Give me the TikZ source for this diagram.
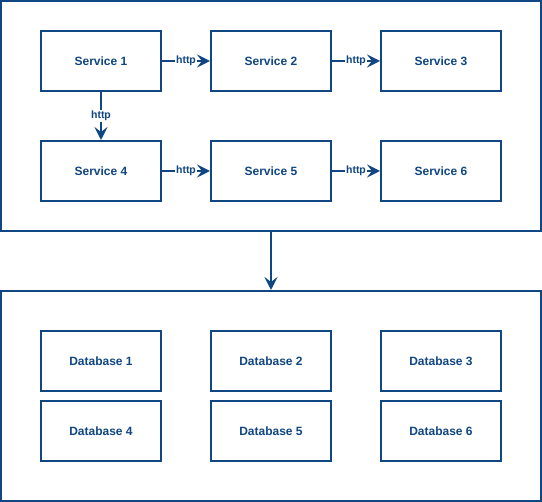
\documentclass[tikz,border=0pt]{standalone}
\usepackage{fontspec}
\setmainfont{Liberation Sans}
\usetikzlibrary{arrows.meta}
\definecolor{dblue}{RGB}{16,70,130}
\tikzset{
  box/.style={draw=dblue, line width=2pt, fill=white, minimum width=120pt, minimum height=60pt, inner sep=0pt, font=\bfseries\fontsize{12}{14}\selectfont, text=dblue},
  frame/.style={draw=dblue, line width=2pt},
  conn/.style={draw=dblue, line width=2pt, -{Stealth[length=13pt,width=13pt,inset=5pt]}},
  lbl/.style={fill=white, inner sep=1pt, text=dblue, font=\bfseries\fontsize{10.5}{12}\selectfont}
}
\begin{document}
\begin{tikzpicture}[x=1pt,y=-1pt]
\useasboundingbox (0,0) rectangle (542,502);
\node[frame, minimum width=540pt, minimum height=230pt, inner sep=0pt] (top) at (271,116) {};
\node[frame, minimum width=540pt, minimum height=210pt, inner sep=0pt] (bot) at (271,396) {};
\node[box] (s1) at (101,61) {Service 1};
\node[box] (s2) at (271,61) {Service 2};
\node[box] (s3) at (441,61) {Service 3};
\node[box] (s4) at (101,171) {Service 4};
\node[box] (s5) at (271,171) {Service 5};
\node[box] (s6) at (441,171) {Service 6};
\node[box] (d1) at (101,361) {Database 1};
\node[box] (d2) at (271,361) {Database 2};
\node[box] (d3) at (441,361) {Database 3};
\node[box] (d4) at (101,431) {Database 4};
\node[box] (d5) at (271,431) {Database 5};
\node[box] (d6) at (441,431) {Database 6};
\draw[conn] (s1) -- node[lbl] {http} (s2);
\draw[conn] (s2) -- node[lbl] {http} (s3);
\draw[conn] (s4) -- node[lbl] {http} (s5);
\draw[conn] (s5) -- node[lbl] {http} (s6);
\draw[conn] (s1) -- node[lbl] {http} (s4);
\draw[conn] (top) -- (bot);
\end{tikzpicture}
\end{document}
